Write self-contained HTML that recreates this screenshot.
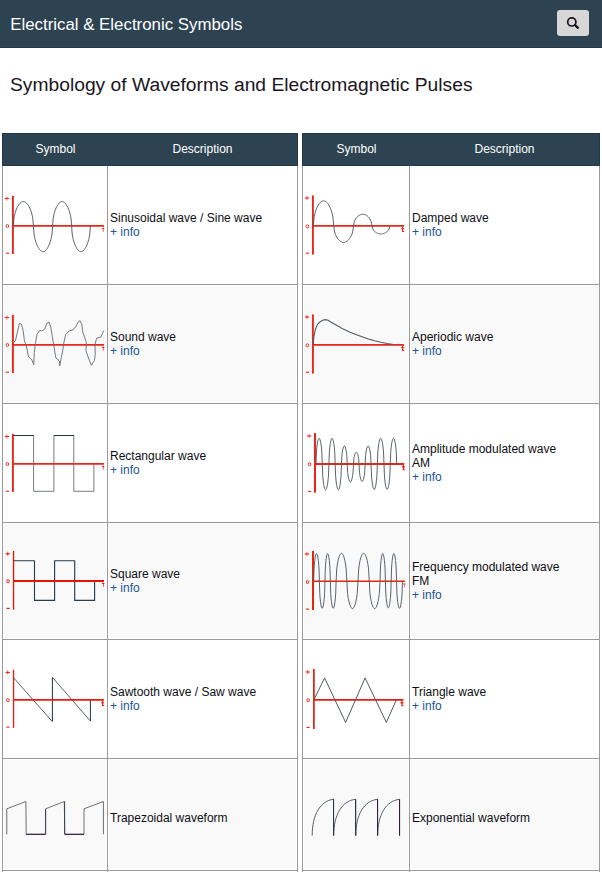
<!DOCTYPE html>
<html lang="en"><head><meta charset="utf-8"><title>Symbology of Waveforms and Electromagnetic Pulses</title>
<style>
html,body{margin:0;padding:0;background:#fff;}
body{width:602px;height:876px;overflow:hidden;position:relative;font-family:"Liberation Sans",sans-serif;color:#1c1c24;}
header{position:absolute;left:0;top:0;width:602px;height:47px;background:#2e4352;border-bottom:1px solid #223a4c;}
header .title{position:absolute;left:10.2px;top:14.6px;font-size:16.85px;line-height:20px;color:#fff;white-space:nowrap;}
header .search{position:absolute;left:557px;top:10px;width:32px;height:26px;border-radius:3px;background:#d7d7d7;border:0;padding:0;margin:0;display:block;}
header .search svg{position:absolute;left:0;top:0;}
h1{position:absolute;left:10px;top:73.4px;margin:0;font-size:19.25px;line-height:24px;font-weight:normal;color:#1a1522;white-space:nowrap;}
table{position:absolute;top:133px;border-collapse:separate;border-spacing:0;table-layout:fixed;font-size:12px;line-height:14px;}
table.t1{left:2px;width:296px;}
table.t2{left:302px;width:298px;}
th,td{box-sizing:border-box;padding:0;margin:0;}
th{height:33px;padding-bottom:2px;background:#2e4352;color:#fff;font-weight:normal;text-align:center;vertical-align:middle;border-top:1px solid #22384a;border-bottom:1px solid #22384a;}
th.c1{border-left:1px solid #22384a;}
th.c2{border-right:1px solid #22384a;}
td{border-bottom:1px solid #9a9a9a;border-right:1px solid #9a9a9a;vertical-align:middle;background:#fff;}
td.c1{border-left:1px solid #9a9a9a;font-size:0;line-height:0;}
td.c2{padding-left:2px;color:#0e0e14;text-align:left;}
td svg{display:block;}
.t1 .c1{width:106px;}
.t2 .c1{width:108px;}
.c2{width:190px;}
tr.r0 td,tr.r1 td,tr.r2 td,tr.r4 td{height:119px;}
tr.r3 td{height:117px;}
tr.r5 td{height:112px;}
tr.r5 td.c2{padding-top:6px;}
tr.r1 td,tr.r3 td,tr.r5 td{background:#f9f9f9;box-shadow:inset 0 0 0 1px #fff;}
tr.nub td{height:1px;padding:0;border-bottom:0;background:transparent;font-size:0;line-height:0;}
a{color:#1c5494;text-decoration:none;}
</style></head>
<body>
<header><span class="title">Electrical &amp; Electronic Symbols</span><button class="search" type="button" aria-label="Search"><svg width="32" height="26" viewBox="0 0 32 26"><circle cx="14.8" cy="11.9" r="4.1" stroke="#1a1020" stroke-width="1.7" fill="none"/><path d="M18 15L20.9 17.8" stroke="#1a1020" stroke-width="2.3" stroke-linecap="round"/></svg></button></header>
<h1>Symbology of Waveforms and Electromagnetic Pulses</h1>
<table class="t1">
<thead><tr><th class="c1">Symbol</th><th class="c2">Description</th></tr></thead>
<tbody>
<tr class="r0"><td class="c1"><svg width="104" height="118" viewBox="3 166 104 118">
<path d="M12.9 195.8V254" stroke="#e9261a" stroke-width="1.9" fill="none"/>
<path d="M12.9 225.85H104" stroke="#e9261a" stroke-width="1.9" fill="none"/>
<path d="M4.8 198.5h4.2" stroke="#e9261a" stroke-width="1.1" fill="none"/>
<path d="M6.9 196.4v4.2" stroke="#e9261a" stroke-width="0.9" stroke-opacity="0.75" fill="none"/>
<ellipse cx="7.4" cy="226" rx="1.3" ry="1.6" stroke="#e9261a" stroke-width="0.9" fill="none"/>
<path d="M5.8 253.2h3.2" stroke="#e9261a" stroke-width="1.1" fill="none"/>
<path d="M101.9 228.4H104.3" stroke="#e9261a" stroke-width="1.1" fill="none" stroke-opacity="1"/>
<path d="M103.3 227.8V231.8" stroke="#e9261a" stroke-width="1" fill="none" stroke-opacity="0.7"/>
<path d="M13.3 225.9L13.93 218.29L14.56 215.17L15.18 212.81L15.81 210.87L16.44 209.22L17.07 207.79L17.7 206.55L18.32 205.47L18.95 204.54L19.58 203.74L20.21 203.08L20.84 202.54L21.47 202.13L22.09 201.83L22.72 201.66L23.35 201.6L23.98 201.66L24.61 201.83L25.23 202.13L25.86 202.54L26.49 203.08L27.12 203.74L27.75 204.54L28.38 205.47L29 206.55L29.63 207.79L30.26 209.22L30.89 210.87L31.52 212.81L32.14 215.17L32.77 218.29L33.4 225.9L34 233.95L34.6 237.25L35.2 239.75L35.8 241.8L36.4 243.55L37 245.06L37.6 246.37L38.2 247.51L38.8 248.5L39.4 249.33L40 250.04L40.6 250.6L41.2 251.04L41.8 251.35L42.4 251.54L43 251.6L43.6 251.54L44.2 251.35L44.8 251.04L45.4 250.6L46 250.04L46.6 249.33L47.2 248.5L47.8 247.51L48.4 246.37L49 245.06L49.6 243.55L50.2 241.8L50.8 239.75L51.4 237.25L52 233.95L52.6 225.9L53.19 218.29L53.79 215.17L54.38 212.81L54.98 210.87L55.57 209.22L56.16 207.79L56.76 206.55L57.35 205.47L57.94 204.54L58.54 203.74L59.13 203.08L59.73 202.54L60.32 202.13L60.91 201.83L61.51 201.66L62.1 201.6L62.69 201.66L63.29 201.83L63.88 202.13L64.47 202.54L65.07 203.08L65.66 203.74L66.26 204.54L66.85 205.47L67.44 206.55L68.04 207.79L68.63 209.22L69.22 210.87L69.82 212.81L70.41 215.17L71.01 218.29L71.6 225.9L72.19 233.95L72.77 237.25L73.36 239.75L73.95 241.8L74.54 243.55L75.12 245.06L75.71 246.37L76.3 247.51L76.89 248.5L77.47 249.33L78.06 250.04L78.65 250.6L79.24 251.04L79.83 251.35L80.41 251.54L81 251.6L81.59 251.54L82.17 251.35L82.76 251.04L83.35 250.6L83.94 250.04L84.53 249.33L85.11 248.5L85.7 247.51L86.29 246.37L86.88 245.06L87.46 243.55L88.05 241.8L88.64 239.75L89.23 237.25L89.81 233.95L90.4 225.9" stroke="#515b64" stroke-width="0.95" fill="none" stroke-linejoin="round" />
</svg></td><td class="c2">Sinusoidal wave / Sine wave<br><a href="#">+ info</a></td></tr>
<tr class="r1"><td class="c1"><svg width="104" height="118" viewBox="3 285 104 118">
<path d="M12.9 314.8V373" stroke="#e9261a" stroke-width="1.9" fill="none"/>
<path d="M12.9 344.85H104" stroke="#e9261a" stroke-width="1.9" fill="none"/>
<path d="M4.8 317.5h4.2" stroke="#e9261a" stroke-width="1.1" fill="none"/>
<path d="M6.9 315.4v4.2" stroke="#e9261a" stroke-width="0.9" stroke-opacity="0.75" fill="none"/>
<ellipse cx="7.4" cy="345" rx="1.3" ry="1.6" stroke="#e9261a" stroke-width="0.9" fill="none"/>
<path d="M5.8 372.2h3.2" stroke="#e9261a" stroke-width="1.1" fill="none"/>
<path d="M101.9 347.4H104.3" stroke="#e9261a" stroke-width="1.1" fill="none" stroke-opacity="1"/>
<path d="M103.3 346.8V350.8" stroke="#e9261a" stroke-width="1" fill="none" stroke-opacity="0.7"/>
<path d="M13.12 342.57L15.46 340.78L17.25 332.7L19.4 323.38L21.38 324.09L23.17 330.91L24.43 340.78L26.22 345.26L28.55 356.92L31.6 359.26L33.75 364.64L34.29 352.44L35.55 342.57L36.98 334.5L39.67 330.55L41.83 330.91L44.7 329.12L46.85 323.38L49 321.94L50.8 327.32L52.23 336.29L54.03 347.06L55.82 357.82L59.41 361.05L59.77 365.89L61.2 357.82L62.64 351L63.89 342.57L65.69 334.5L69.28 330.91L72.86 330.01L75.56 326.96L78.25 321.94L80.04 320.68L81.83 324.63L82.73 331.81L84.88 338.09L86.32 342.57L85.96 350.65L88.11 356.92L91.34 365.36L94.39 360.51L95.29 354.23L94.93 344.37L96.73 338.09L100.67 337.19L102.47 333.6L103.72 330.55" stroke="#636c74" stroke-width="0.9" fill="none" stroke-linejoin="round" />
</svg></td><td class="c2">Sound wave<br><a href="#">+ info</a></td></tr>
<tr class="r2"><td class="c1"><svg width="104" height="118" viewBox="3 404 104 118">
<path d="M13.2 435.5H33.6V491.3H53.9V435.5H73.8V491.3H93.9V464" stroke="#767c82" stroke-width="1.0" fill="none" stroke-linejoin="round" />
<path d="M13.2 435.5H33.6M53.9 435.5H73.8" stroke="#22303f" stroke-width="1.0" fill="none" stroke-linejoin="round" />
<path d="M12.9 433.8V492" stroke="#e9261a" stroke-width="1.9" fill="none"/>
<path d="M12.9 463.85H104" stroke="#e9261a" stroke-width="1.9" fill="none"/>
<path d="M4.8 436.5h4.2" stroke="#e9261a" stroke-width="1.1" fill="none"/>
<path d="M6.9 434.4v4.2" stroke="#e9261a" stroke-width="0.9" stroke-opacity="0.75" fill="none"/>
<ellipse cx="7.4" cy="464" rx="1.3" ry="1.6" stroke="#e9261a" stroke-width="0.9" fill="none"/>
<path d="M5.8 491.2h3.2" stroke="#e9261a" stroke-width="1.1" fill="none"/>
<path d="M101.9 466.4H104.3" stroke="#e9261a" stroke-width="1.1" fill="none" stroke-opacity="1"/>
<path d="M103.3 465.8V469.8" stroke="#e9261a" stroke-width="1" fill="none" stroke-opacity="0.7"/>
</svg></td><td class="c2">Rectangular wave<br><a href="#">+ info</a></td></tr>
<tr class="r3"><td class="c1"><svg width="104" height="116" viewBox="3 523 104 116">
<path d="M13.7 560.7H34.5V600.4H54.6V560.7H74.7V600.4H94.6V581" stroke="#2a3f4e" stroke-width="1.15" fill="none" stroke-linejoin="round" />
<path d="M13.55 550.9V609.7" stroke="#e41406" stroke-width="1.35" fill="none"/>
<path d="M13.55 581H104" stroke="#e41406" stroke-width="2.2" fill="none"/>
<path d="M5.6 553.8h4.2" stroke="#e41406" stroke-width="1.1" fill="none"/>
<path d="M7.7 551.7v4.2" stroke="#e41406" stroke-width="0.9" stroke-opacity="0.75" fill="none"/>
<ellipse cx="8.1" cy="581.3" rx="1.3" ry="1.6" stroke="#e41406" stroke-width="0.9" fill="none"/>
<path d="M6.5 608.4h3.2" stroke="#e41406" stroke-width="1.1" fill="none"/>
<path d="M102 583.5H104.4" stroke="#e41406" stroke-width="1.1" fill="none" stroke-opacity="1"/>
<path d="M103.4 582.9V586.9" stroke="#e41406" stroke-width="1" fill="none" stroke-opacity="0.7"/>
</svg></td><td class="c2">Square wave<br><a href="#">+ info</a></td></tr>
<tr class="r4"><td class="c1"><svg width="104" height="118" viewBox="3 640 104 118">
<path d="M13.7 677.9L52.2 721.4M52.6 677.6L90.4 721" stroke="#56606a" stroke-width="1.0" fill="none" stroke-linejoin="round" />
<path d="M52.4 721.4V677.6M90.4 721V699.8" stroke="#22303f" stroke-width="1.0" fill="none" stroke-linejoin="round" />
<path d="M13.55 669.7V727.9" stroke="#e81c10" stroke-width="1.35" fill="none"/>
<path d="M13.55 699.8H103.9" stroke="#e81c10" stroke-width="1.7" fill="none"/>
<path d="M5.6 672.4h4.2" stroke="#e81c10" stroke-width="1.1" fill="none"/>
<path d="M7.7 670.3v4.2" stroke="#e81c10" stroke-width="0.9" stroke-opacity="0.75" fill="none"/>
<ellipse cx="7.9" cy="700.2" rx="1.3" ry="1.6" stroke="#e81c10" stroke-width="0.9" fill="none"/>
<path d="M6.3 727.1h3.2" stroke="#e81c10" stroke-width="1.1" fill="none"/>
<path d="M102.6 700.6V705.5H104.2M101.1 702.7H104.2" stroke="#e81c10" stroke-width="1.15" fill="none" stroke-opacity="1"/>
</svg></td><td class="c2">Sawtooth wave / Saw wave<br><a href="#">+ info</a></td></tr>
<tr class="r5"><td class="c1"><svg width="104" height="111" viewBox="3 759 104 111">
<path d="M6.8 834.3V808.8L25.9 801.5L26.2 834.3H45.6V808.8L64.3 801.5L64.8 834.3H84V808.8L103.4 801.5V834.3" stroke="#6b6f74" stroke-width="1.0" fill="none" stroke-linejoin="round" />
<path d="M26.2 834.3H45.6M64.8 834.3H84" stroke="#2e1533" stroke-width="1.0" fill="none" stroke-linejoin="round" />
<path d="M45.6 834.3V808.8M64.6 801.5V834.3" stroke="#3a4450" stroke-width="1.0" fill="none" stroke-linejoin="round" />
</svg></td><td class="c2">Trapezoidal waveform</td></tr>
<tr class="nub"><td class="c1"></td><td class="c2"></td></tr>
</tbody></table>
<table class="t2">
<thead><tr><th class="c1">Symbol</th><th class="c2">Description</th></tr></thead>
<tbody>
<tr class="r0"><td class="c1"><svg width="106" height="118" viewBox="303 166 106 118">
<path d="M312.9 195.4V254.6" stroke="#e9261a" stroke-width="1.9" fill="none"/>
<path d="M312.9 225.85H404" stroke="#e9261a" stroke-width="1.9" fill="none"/>
<path d="M304.9 198h4.2" stroke="#e9261a" stroke-width="1.1" fill="none"/>
<path d="M307 195.9v4.2" stroke="#e9261a" stroke-width="0.9" stroke-opacity="0.75" fill="none"/>
<ellipse cx="307.4" cy="226.3" rx="1.3" ry="1.6" stroke="#e9261a" stroke-width="0.9" fill="none"/>
<path d="M305.8 253.2h3.2" stroke="#e9261a" stroke-width="1.1" fill="none"/>
<path d="M402.6 226.6V231.5H404.2M401.1 228.7H404.2" stroke="#e9261a" stroke-width="1.15" fill="none" stroke-opacity="1"/>
<path d="M313.3 226L314.15 216.9L315 213.18L315.86 210.41L316.71 208.18L317.56 206.34L318.41 204.81L319.26 203.55L320.12 202.55L320.97 201.78L321.82 201.23L322.67 200.91L323.52 200.8L324.38 200.91L325.23 201.23L326.08 201.78L326.93 202.55L327.79 203.55L328.64 204.81L329.49 206.34L330.34 208.18L331.19 210.41L332.05 213.18L332.9 216.9L333.75 226L334.57 231.93L335.4 234.34L336.22 236.15L337.04 237.6L337.86 238.8L338.69 239.79L339.51 240.61L340.33 241.26L341.16 241.76L341.98 242.12L342.8 242.33L343.62 242.4L344.45 242.33L345.27 242.12L346.09 241.76L346.92 241.26L347.74 240.61L348.56 239.79L349.39 238.8L350.21 237.6L351.03 236.15L351.85 234.34L352.68 231.93L353.5 226L354.27 221.74L355.04 220L355.81 218.7L356.58 217.66L357.35 216.79L358.12 216.08L358.9 215.49L359.67 215.02L360.44 214.66L361.21 214.4L361.98 214.25L362.75 214.2L363.52 214.25L364.29 214.4L365.06 214.66L365.83 215.02L366.6 215.49L367.38 216.08L368.15 216.79L368.92 217.66L369.69 218.7L370.46 220L371.23 221.74L372 226L372.75 228.89L373.49 230.07L374.24 230.95L374.98 231.66L375.73 232.24L376.48 232.73L377.22 233.13L377.97 233.44L378.71 233.69L379.46 233.86L380.2 233.97L380.95 234L381.7 233.97L382.44 233.86L383.19 233.69L383.93 233.44L384.68 233.13L385.42 232.73L386.17 232.24L386.92 231.66L387.66 230.95L388.41 230.07L389.15 228.89L389.9 226" stroke="#515b64" stroke-width="0.95" fill="none" stroke-linejoin="round" />
</svg></td><td class="c2">Damped wave<br><a href="#">+ info</a></td></tr>
<tr class="r1"><td class="c1"><svg width="106" height="118" viewBox="303 285 106 118">
<path d="M312.9 314.4V373.6" stroke="#e9261a" stroke-width="1.9" fill="none"/>
<path d="M312.9 344.85H404" stroke="#e9261a" stroke-width="1.9" fill="none"/>
<path d="M304.9 317h4.2" stroke="#e9261a" stroke-width="1.1" fill="none"/>
<path d="M307 314.9v4.2" stroke="#e9261a" stroke-width="0.9" stroke-opacity="0.75" fill="none"/>
<ellipse cx="307.4" cy="345.3" rx="1.3" ry="1.6" stroke="#e9261a" stroke-width="0.9" fill="none"/>
<path d="M305.8 372.2h3.2" stroke="#e9261a" stroke-width="1.1" fill="none"/>
<path d="M402.6 345.6V350.5H404.2M401.1 347.7H404.2" stroke="#e9261a" stroke-width="1.15" fill="none" stroke-opacity="1"/>
<path d="M313.12 344.9L313.84 337.19L315.46 329.12L317.43 324.63L319.94 321.94L322.63 320.33L325.32 319.61L328.01 320.33L330.7 321.94L336.98 325.53L343.26 329.12L349.54 331.99L355.82 334.5L362.1 336.83L368.38 338.98L374.66 340.78L380.94 342.21L387.22 343.47L393.5 344.55" stroke="#4f5a63" stroke-width="1.1" fill="none" stroke-linejoin="round" />
</svg></td><td class="c2">Aperiodic wave<br><a href="#">+ info</a></td></tr>
<tr class="r2"><td class="c1"><svg width="106" height="118" viewBox="303 404 106 118">
<path d="M315 433.1V492.7" stroke="#e9261a" stroke-width="2.1" fill="none"/>
<path d="M315 463.9H404.3" stroke="#e9261a" stroke-width="2" fill="none"/>
<path d="M307.1 436h4.2" stroke="#e9261a" stroke-width="1.1" fill="none"/>
<path d="M309.2 433.9v4.2" stroke="#e9261a" stroke-width="0.9" stroke-opacity="0.75" fill="none"/>
<ellipse cx="309.6" cy="464.2" rx="1.3" ry="1.6" stroke="#e9261a" stroke-width="0.9" fill="none"/>
<path d="M308.1 491.4h3.2" stroke="#e9261a" stroke-width="1.1" fill="none"/>
<path d="M403.4 464.8V469.7H405M401.9 466.9H405" stroke="#e9261a" stroke-width="1.15" fill="none" stroke-opacity="1"/>
<path d="M315.99 464L316.44 451.88L316.89 447.07L317.34 443.71L317.79 441.28L318.24 439.61L318.68 438.62L319.13 438.3L319.58 438.62L320.03 439.61L320.48 441.28L320.93 443.71L321.38 447.07L321.82 451.88L322.27 464L322.75 476.17L323.22 480.99L323.7 484.37L324.17 486.81L324.64 488.49L325.12 489.47L325.59 489.8L326.07 489.47L326.54 488.49L327.01 486.81L327.49 484.37L327.96 480.99L328.44 476.17L328.91 464L329.36 451.88L329.81 447.07L330.26 443.71L330.7 441.28L331.15 439.61L331.6 438.62L332.05 438.3L332.5 438.62L332.95 439.61L333.4 441.28L333.84 443.71L334.29 447.07L334.74 451.88L335.19 464L335.64 476.17L336.09 480.99L336.54 484.37L336.98 486.81L337.43 488.49L337.88 489.47L338.33 489.8L338.78 489.47L339.23 488.49L339.67 486.81L340.12 484.37L340.57 480.99L341.02 476.17L341.47 464L341.88 455.56L342.29 452.21L342.7 449.87L343.11 448.17L343.52 447.01L343.93 446.33L344.34 446.1L344.75 446.33L345.16 447.01L345.57 448.17L345.98 449.87L346.39 452.21L346.8 455.56L347.21 464L347.66 472.44L348.11 475.79L348.56 478.13L349 479.83L349.45 480.99L349.9 481.67L350.35 481.9L350.8 481.67L351.25 480.99L351.7 479.83L352.14 478.13L352.59 475.79L353.04 472.44L353.49 464L353.89 458.48L354.28 456.29L354.68 454.76L355.08 453.65L355.48 452.89L355.87 452.45L356.27 452.3L356.67 452.45L357.06 452.89L357.46 453.65L357.86 454.76L358.26 456.29L358.65 458.48L359.05 464L359.49 472.21L359.92 475.46L360.36 477.74L360.79 479.39L361.23 480.52L361.66 481.18L362.1 481.4L362.54 481.18L362.97 480.52L363.41 479.39L363.84 477.74L364.28 475.46L364.71 472.21L365.15 464L365.57 455.56L366 452.21L366.42 449.87L366.84 448.17L367.26 447.01L367.69 446.33L368.11 446.1L368.53 446.33L368.96 447.01L369.38 448.17L369.8 449.87L370.22 452.21L370.65 455.56L371.07 464L371.52 476.03L371.97 480.8L372.42 484.14L372.86 486.55L373.31 488.2L373.76 489.18L374.21 489.5L374.66 489.18L375.11 488.2L375.56 486.55L376 484.14L376.45 480.8L376.9 476.03L377.35 464L377.82 451.88L378.3 447.07L378.77 443.71L379.25 441.28L379.72 439.61L380.19 438.62L380.67 438.3L381.14 438.62L381.62 439.61L382.09 441.28L382.57 443.71L383.04 447.07L383.51 451.88L383.99 464L384.44 476.03L384.88 480.8L385.33 484.14L385.78 486.55L386.23 488.2L386.68 489.18L387.13 489.5L387.58 489.18L388.02 488.2L388.47 486.55L388.92 484.14L389.37 480.8L389.82 476.03L390.27 464L390.73 451.88L391.19 447.07L391.65 443.71L392.11 441.28L392.57 439.61L393.03 438.62L393.5 438.3L393.96 438.62L394.42 439.61L394.88 441.28L395.34 443.71L395.8 447.07L396.26 451.88L396.73 464" stroke="#515b64" stroke-width="0.95" fill="none" stroke-linejoin="round" />
</svg></td><td class="c2">Amplitude modulated wave<br>AM<br><a href="#">+ info</a></td></tr>
<tr class="r3"><td class="c1"><svg width="106" height="116" viewBox="303 523 106 116">
<path d="M313 551.1V610.1" stroke="#e3260c" stroke-width="2" fill="none"/>
<path d="M313 581.3H404.9" stroke="#e3260c" stroke-width="1.5" fill="none"/>
<path d="M304.8 554h4.2" stroke="#e3260c" stroke-width="1.1" fill="none"/>
<path d="M306.9 551.9v4.2" stroke="#e3260c" stroke-width="0.9" stroke-opacity="0.75" fill="none"/>
<ellipse cx="307.5" cy="582" rx="1.3" ry="1.6" stroke="#e3260c" stroke-width="0.9" fill="none"/>
<path d="M305.9 609.1h3.2" stroke="#e3260c" stroke-width="1.1" fill="none"/>
<path d="M403.1 584H405.5" stroke="#e3260c" stroke-width="1.1" fill="none" stroke-opacity="0.75"/>
<path d="M404.5 583.4V587.4" stroke="#e3260c" stroke-width="1" fill="none" stroke-opacity="0.5249999999999999"/>
<path d="M313.66 581.3L314.02 569.02L314.38 564.1L314.74 560.58L315.1 557.92L315.46 555.95L315.81 554.58L316.17 553.77L316.53 553.5L316.89 553.77L317.25 554.58L317.61 555.95L317.97 557.92L318.33 560.58L318.68 564.1L319.04 569.02L319.4 581.3L319.75 593.23L320.1 598L320.45 601.42L320.79 604L321.14 605.92L321.49 607.25L321.84 608.04L322.18 608.3L322.53 608.04L322.88 607.25L323.23 605.92L323.57 604L323.92 601.42L324.27 598L324.62 593.23L324.96 581.3L325.3 569.02L325.64 564.1L325.97 560.58L326.31 557.92L326.65 555.95L326.98 554.58L327.32 553.77L327.65 553.5L327.99 553.77L328.33 554.58L328.66 555.95L329 557.92L329.34 560.58L329.67 564.1L330.01 569.02L330.35 581.3L330.7 593.23L331.06 598L331.42 601.42L331.78 604L332.14 605.92L332.5 607.25L332.86 608.04L333.22 608.3L333.58 608.04L333.93 607.25L334.29 605.92L334.65 604L335.01 601.42L335.37 598L335.73 593.23L336.09 581.3L336.76 568.93L337.43 563.98L338.11 560.43L338.78 557.75L339.45 555.77L340.12 554.39L340.8 553.57L341.47 553.3L342.14 553.57L342.81 554.39L343.49 555.77L344.16 557.75L344.83 560.43L345.51 563.98L346.18 568.93L346.85 581.3L347.55 593.36L348.24 598.19L348.94 601.65L349.63 604.26L350.33 606.19L351.02 607.54L351.72 608.34L352.41 608.6L353.11 608.34L353.8 607.54L354.5 606.19L355.19 604.26L355.89 601.65L356.58 598.19L357.28 593.36L357.97 581.3L358.68 568.93L359.39 563.98L360.09 560.43L360.8 557.75L361.51 555.77L362.21 554.39L362.92 553.57L363.63 553.3L364.33 553.57L365.04 554.39L365.74 555.77L366.45 557.75L367.16 560.43L367.86 563.98L368.57 568.93L369.28 581.3L369.95 593.36L370.62 598.19L371.29 601.65L371.97 604.26L372.64 606.19L373.31 607.54L373.99 608.34L374.66 608.6L375.33 608.34L376 607.54L376.68 606.19L377.35 604.26L378.02 601.65L378.7 598.19L379.37 593.36L380.04 581.3L380.38 569.02L380.71 564.1L381.05 560.58L381.39 557.92L381.72 555.95L382.06 554.58L382.4 553.77L382.73 553.5L383.07 553.77L383.4 554.58L383.74 555.95L384.08 557.92L384.41 560.58L384.75 564.1L385.09 569.02L385.42 581.3L385.78 593L386.14 597.69L386.5 601.05L386.86 603.58L387.22 605.46L387.58 606.77L387.93 607.54L388.29 607.8L388.65 607.54L389.01 606.77L389.37 605.46L389.73 603.58L390.09 601.05L390.45 597.69L390.81 593L391.16 581.3L391.5 569.02L391.84 564.1L392.17 560.58L392.51 557.92L392.85 555.95L393.18 554.58L393.52 553.77L393.86 553.5L394.19 553.77L394.53 554.58L394.86 555.95L395.2 557.92L395.54 560.58L395.87 564.1L396.21 569.02L396.55 581.3L396.92 593.23L397.29 598L397.66 601.42L398.03 604L398.4 605.92L398.77 607.25L399.14 608.04L399.51 608.3L399.88 608.04L400.25 607.25L400.62 605.92L400.99 604L401.36 601.42L401.73 598L402.1 593.23L402.47 581.3" stroke="#515b64" stroke-width="0.95" fill="none" stroke-linejoin="round" />
</svg></td><td class="c2">Frequency modulated wave<br>FM<br><a href="#">+ info</a></td></tr>
<tr class="r4"><td class="c1"><svg width="106" height="118" viewBox="303 640 106 118">
<path d="M313.9 668.9V728.9" stroke="#e81c10" stroke-width="1.7" fill="none"/>
<path d="M313.9 699.8H403.4" stroke="#e81c10" stroke-width="1.7" fill="none"/>
<path d="M305.6 672h4.2" stroke="#e81c10" stroke-width="1.1" fill="none"/>
<path d="M307.7 669.9v4.2" stroke="#e81c10" stroke-width="0.9" stroke-opacity="0.75" fill="none"/>
<ellipse cx="308.1" cy="700.2" rx="1.3" ry="1.6" stroke="#e81c10" stroke-width="0.9" fill="none"/>
<path d="M306.5 727.4h3.2" stroke="#e81c10" stroke-width="1.1" fill="none"/>
<path d="M402 700.8V705.7H403.6M400.5 702.9H403.6" stroke="#e81c10" stroke-width="1.15" fill="none" stroke-opacity="1"/>
<path d="M314 699.5L324.6 677.9L345.6 722.4L365.1 677.9L386.3 722.4L396.5 699.5" stroke="#505a64" stroke-width="1.0" fill="none" stroke-linejoin="round" />
</svg></td><td class="c2">Triangle wave<br><a href="#">+ info</a></td></tr>
<tr class="r5"><td class="c1"><svg width="106" height="111" viewBox="303 759 106 111">
<path d="M312.2 835.6C312.2 814.6 320.29 800.8 333.5 799.3V835.6M333.7 835.6C333.7 814.6 342.02 800.8 355.6 799.3V835.6M355.8 835.6C355.8 814.6 364.05 800.8 377.5 799.3V835.6M377.7 835.6C377.7 814.6 385.98 800.8 399.5 799.3V835.6" stroke="#56606a" stroke-width="1.0" fill="none" stroke-linejoin="round" />
<path d="M333.6 799.3V835.6M355.7 799.3V835.6" stroke="#22303f" stroke-width="1.0" fill="none" stroke-linejoin="round" />
<path d="M377.6 799.3V835.6M399.6 799.3V835.6" stroke="#2e1533" stroke-width="1.0" fill="none" stroke-linejoin="round" />
</svg></td><td class="c2">Exponential waveform</td></tr>
<tr class="nub"><td class="c1"></td><td class="c2"></td></tr>
</tbody></table>
</body></html>
